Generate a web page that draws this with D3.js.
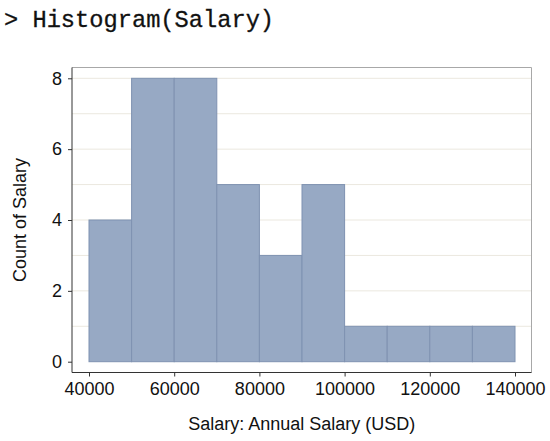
<!DOCTYPE html>
<html>
<head>
<meta charset="utf-8">
<script src="https://cdn.jsdelivr.net/npm/d3@7"></script>
<style>
  body { margin: 0; background: #fff; }
  svg { display: block; }
</style>
</head>
<body>
<div id="chart"></div>
<script>
// Histogram bins (lower edge, upper edge) and counts
const binStarts = [40000, 50000, 60000, 70000, 80000, 90000, 100000, 110000, 120000, 130000];
const binWidth = 10000;
const counts = [4, 8, 8, 5, 3, 5, 1, 1, 1, 1];
const xTicks = [40000, 60000, 80000, 100000, 120000, 140000];
const yTicks = [0, 2, 4, 6, 8];
const gridValues = [1, 2, 3, 4, 5, 6, 7, 8];

const width = 550;
const height = 441;

const svg = d3
  .select("#chart")
  .append("svg")
  .attr("width", width)
  .attr("height", height);

// Console-style title
svg
  .append("text")
  .attr("x", 4)
  .attr("y", 27)
  .attr("font-family", "'Liberation Mono', 'DejaVu Sans Mono', monospace")
  .attr("font-size", 23.7)
  .attr("fill", "#111")
  .attr("stroke", "#111")
  .attr("stroke-width", 0.3)
  .text("> Histogram(Salary)");

// Plot frame
const frame = { left: 72, right: 531.5, top: 67.5, bottom: 372.5 };

const x = d3.scaleLinear().domain([40000, 140000]).range([89, 515]);
const y = d3.scaleLinear().domain([0, 8]).range([361.7, 78.3]);

// Gridlines
svg
  .selectAll(".grid")
  .data(gridValues)
  .enter()
  .append("line")
  .attr("class", "grid")
  .attr("x1", frame.left)
  .attr("x2", frame.right)
  .attr("y1", (d) => y(d))
  .attr("y2", (d) => y(d))
  .attr("stroke", "#ebe8df")
  .attr("stroke-width", 1);

// Top and right frame edges (light)
svg
  .append("path")
  .attr("d", `M${frame.left},${frame.top}H${frame.right}V${frame.bottom}`)
  .attr("fill", "none")
  .attr("stroke", "#a8a8a8")
  .attr("stroke-width", 1);

// Bars
svg
  .selectAll(".bar")
  .data(binStarts)
  .enter()
  .append("rect")
  .attr("class", "bar")
  .attr("x", (d) => x(d))
  .attr("y", (d, i) => y(counts[i]))
  .attr("width", (d) => x(d + binWidth) - x(d))
  .attr("height", (d, i) => y(0) - y(counts[i]))
  .attr("fill", "#97a9c4")
  .attr("stroke", "#7f92b1")
  .attr("stroke-width", 1);

// Axes
const font = "'Liberation Sans', Arial, sans-serif";

const xAxis = svg
  .append("g")
  .attr("transform", `translate(0,${frame.bottom})`)
  .call(d3.axisBottom(x).tickValues(xTicks).tickFormat(d3.format("d")).tickSize(4).tickPadding(6).tickSizeOuter(0));

xAxis.select(".domain").attr("d", `M${frame.left},0H${frame.right}`).attr("stroke", "#333");
xAxis.selectAll(".tick line").attr("stroke", "#333");
xAxis.selectAll(".tick text").attr("font-family", font).attr("font-size", 18).attr("fill", "#111");

const yAxis = svg
  .append("g")
  .attr("transform", `translate(${frame.left},0)`)
  .call(d3.axisLeft(y).tickValues(yTicks).tickSize(4).tickPadding(6).tickSizeOuter(0));

yAxis.select(".domain").attr("d", `M0,${frame.top}V${frame.bottom}`).attr("stroke", "#333");
yAxis.selectAll(".tick line").attr("stroke", "#333");
yAxis.selectAll(".tick text").attr("font-family", font).attr("font-size", 18).attr("fill", "#111");

// Axis titles
svg
  .append("text")
  .attr("x", (frame.left + frame.right) / 2)
  .attr("y", 430)
  .attr("text-anchor", "middle")
  .attr("font-family", font)
  .attr("font-size", 18)
  .attr("fill", "#111")
  .text("Salary: Annual Salary (USD)");

svg
  .append("text")
  .attr("transform", `translate(26,220) rotate(-90)`)
  .attr("text-anchor", "middle")
  .attr("font-family", font)
  .attr("font-size", 18)
  .attr("fill", "#111")
  .text("Count of Salary");
</script>
</body>
</html>
